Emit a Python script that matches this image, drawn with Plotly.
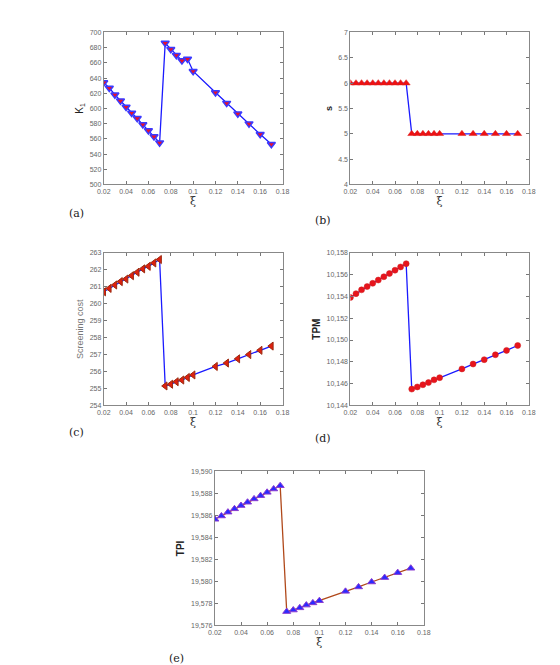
import plotly.graph_objects as go

# valeurs de xi (communes aux 5 graphes)
xi = [0.02, 0.025, 0.03, 0.035, 0.04, 0.045, 0.05, 0.055, 0.06, 0.065, 0.07,
      0.075, 0.08, 0.085, 0.09, 0.095, 0.1, 0.12, 0.13, 0.14, 0.15, 0.16, 0.17]

k1 = [634, 627, 618, 610, 602, 594, 587, 579, 571, 563, 555,
      686, 678, 670, 663, 665, 649, 621, 607, 593, 580, 566, 553]

s_val = [6, 6, 6, 6, 6, 6, 6, 6, 6, 6, 6,
         5, 5, 5, 5, 5, 5, 5, 5, 5, 5, 5, 5]

screening = [260.7, 260.9, 261.1, 261.3, 261.45, 261.65, 261.85, 262.05, 262.2, 262.4, 262.6,
             255.15, 255.25, 255.4, 255.5, 255.65, 255.8, 256.3, 256.5, 256.75, 257.0, 257.25, 257.5]

tpm = [10153.9, 10154.25, 10154.6, 10154.9, 10155.2, 10155.5, 10155.8, 10156.1, 10156.4, 10156.7, 10157.0,
       10145.5, 10145.7, 10145.9, 10146.1, 10146.35, 10146.55, 10147.35, 10147.8, 10148.2, 10148.65, 10149.05, 10149.5]

tpi = [19585.65, 19585.95, 19586.3, 19586.6, 19586.9, 19587.2, 19587.5, 19587.8, 19588.1, 19588.4, 19588.7,
       19577.26, 19577.4, 19577.6, 19577.85, 19578.05, 19578.25, 19579.1, 19579.5, 19579.95, 19580.35, 19580.8, 19581.2]

x_ticks = [0.02, 0.04, 0.06, 0.08, 0.1, 0.12, 0.14, 0.16, 0.18]
x_ticktext = ["0.02", "0.04", "0.06", "0.08", "0.1", "0.12", "0.14", "0.16", "0.18"]

fig = go.Figure()

# (a) K1
fig.add_trace(go.Scatter(x=xi, y=k1, mode="lines+markers", xaxis="x", yaxis="y",
                         line=dict(color="#1a1aff", width=1.3),
                         marker=dict(symbol="triangle-down", size=7, color="#e8102a",
                                     line=dict(color="#3a3aff", width=1.5))))
# (b) s
fig.add_trace(go.Scatter(x=xi, y=s_val, mode="lines+markers", xaxis="x2", yaxis="y2",
                         line=dict(color="#1a1aff", width=1.3),
                         marker=dict(symbol="triangle-up", size=7, color="#ee1111",
                                     line=dict(color="#dd2222", width=0.5))))
# (c) screening cost
fig.add_trace(go.Scatter(x=xi, y=screening, mode="lines+markers", xaxis="x3", yaxis="y3",
                         line=dict(color="#1a1aff", width=1.3),
                         marker=dict(symbol="triangle-left", size=7, color="#e0200f",
                                     line=dict(color="#9a2a10", width=1))))
# (d) TPM
fig.add_trace(go.Scatter(x=xi, y=tpm, mode="lines+markers", xaxis="x4", yaxis="y4",
                         line=dict(color="#1a1aff", width=1.3),
                         marker=dict(symbol="circle", size=6, color="#e8141c",
                                     line=dict(color="#cc2020", width=0.5))))
# (e) TPI
fig.add_trace(go.Scatter(x=xi, y=tpi, mode="lines+markers", xaxis="x5", yaxis="y5",
                         line=dict(color="#b0481a", width=1.3),
                         marker=dict(symbol="triangle-up", size=7, color="#2a2aff",
                                     line=dict(color="#8a3ad0", width=1))))

tickfont = dict(family="Liberation Sans, Arial", size=7, color="#666666")
title_font = dict(family="DejaVu Serif", size=11, color="#333333")

def xax(domain, anchor):
    return dict(domain=domain, anchor=anchor, range=[0.02, 0.18], tickvals=x_ticks,
                ticktext=x_ticktext, ticks="inside", ticklen=3, tickcolor="#777777",
                showline=True, linecolor="#888888", linewidth=1, mirror="ticks",
                showgrid=False, zeroline=False, tickfont=tickfont,
                title=dict(text="ξ", font=title_font, standoff=0))

def yax(domain, anchor, rng, dtick, title, fmt=None, tfont=None):
    d = dict(domain=domain, anchor=anchor, range=rng, dtick=dtick, tick0=rng[0],
             ticks="inside", ticklen=3, tickcolor="#777777",
             showline=True, linecolor="#888888", linewidth=1, mirror="ticks",
             showgrid=False, zeroline=False, tickfont=tickfont,
             title=dict(text=title, font=tfont or dict(family="Liberation Sans", size=10, color="#222222"),
                        standoff=4))
    if fmt:
        d["tickformat"] = fmt
    return d

col1 = [0.1625, 0.490]
col2 = [0.6143, 0.9411]
row1 = [0.7379, 0.9689]
row2 = [0.4020, 0.6341]

fig.update_layout(
    width=560, height=665,
    margin=dict(l=0, r=0, t=0, b=0),
    paper_bgcolor="white", plot_bgcolor="white",
    showlegend=False,
    xaxis=xax(col1, "y"),
    yaxis=yax(row1, "x", [500, 700], 20, "K<sub>1</sub>"),
    xaxis2=xax(col2, "y2"),
    yaxis2=yax(row1, "x2", [4, 7], 0.5, "<b>s</b>",
               tfont=dict(family="Liberation Sans", size=9, color="#222222")),
    xaxis3=xax(col1, "y3"),
    yaxis3=yax(row2, "x3", [254, 263], 1, "Screening cost",
               tfont=dict(family="Liberation Sans", size=9, color="#777777")),
    xaxis4=xax(col2, "y4"),
    yaxis4=yax(row2, "x4", [10144, 10158], 2, "<b>TPM</b>", fmt=",d"),
    xaxis5=xax([0.3661, 0.7488], "y5"),
    yaxis5=yax([0.0677, 0.3018], "x5", [19576, 19590], 2, "<b>TPI</b>", fmt=",d"),
)

labels = [("(a)", 63, 204), ("(b)", 316, 211), ("(c)", 63, 425), ("(d)", 316, 431), ("(e)", 166, 653)]
for txt, px, py in labels:
    fig.add_annotation(text=txt, x=px / 560, y=1 - py / 665, xref="paper", yref="paper",
                       xanchor="center", yanchor="middle", showarrow=False,
                       font=dict(family="DejaVu Serif", size=11, color="#222222"))

fig.write_html("out.html")
